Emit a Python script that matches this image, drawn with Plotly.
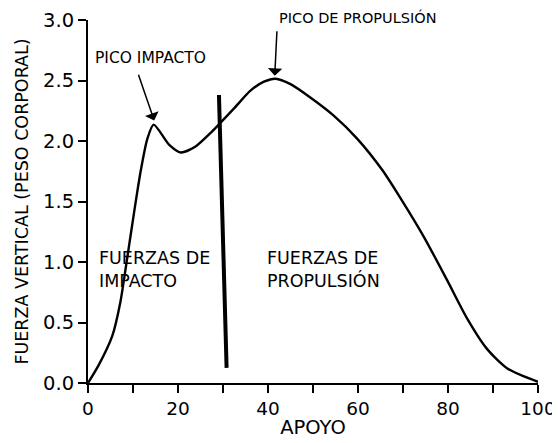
import plotly.graph_objects as go

# curva de fuerza vertical durante el apoyo
apoyo = [0, 2.4, 5.4, 7.2, 8.7, 10.2, 11.7, 13.2, 14.6, 18.0, 20.6, 23.9, 27.6,
         29.1, 32.4, 36.1, 39.1, 41.7, 45.0, 49.4, 54.6, 59.8, 65.4, 69.4, 74.6,
         79.8, 84.3, 88.7, 93.2, 100]
fuerza = [0, 0.15, 0.39, 0.67, 1.03, 1.40, 1.75, 2.02, 2.135, 1.97, 1.905, 1.955,
          2.08, 2.137, 2.267, 2.416, 2.49, 2.515, 2.47, 2.36, 2.21, 2.02, 1.76, 1.53,
          1.21, 0.85, 0.53, 0.28, 0.12, 0.01]

# linea que separa las fases
sep_x = [29.1, 30.8]
sep_y = [2.38, 0.125]

x_ticks = [0, 10, 20, 30, 40, 50, 60, 70, 80, 90, 100]
x_labels = ["0", "", "20", "", "40", "", "60", "", "80", "", "100"]
y_ticks = [0, 0.5, 1.0, 1.5, 2.0, 2.5, 3.0]

FONT = "DejaVu Sans"

fig = go.Figure()
fig.add_trace(go.Scatter(x=apoyo, y=fuerza, mode="lines",
                         line=dict(color="black", width=2.4, shape="spline", smoothing=0.7),
                         hoverinfo="skip"))
fig.add_trace(go.Scatter(x=sep_x, y=sep_y, mode="lines",
                         line=dict(color="black", width=4), hoverinfo="skip"))

# flechas
fig.add_annotation(x=14.7, y=2.17, ax=11.1, ay=2.56, xref="x", yref="y", axref="x", ayref="y",
                   text="", showarrow=True, arrowhead=1, arrowsize=1.6, arrowwidth=1.5,
                   arrowcolor="black")
fig.add_annotation(x=41.5, y=2.54, ax=42.0, ay=2.92, xref="x", yref="y", axref="x", ayref="y",
                   text="", showarrow=True, arrowhead=1, arrowsize=1.6, arrowwidth=1.5,
                   arrowcolor="black")

fig.add_annotation(x=1.2, y=2.69, text="PICO IMPACTO", showarrow=False, xanchor="left",
                   font=dict(size=15.5, color="black", family=FONT))
fig.add_annotation(x=42.1, y=1.036, yref="paper", text="PICO DE PROPULSIÓN", showarrow=False,
                   xanchor="left", yanchor="top", font=dict(size=14.5, color="black", family=FONT))
fig.add_annotation(x=1.9, y=0.935, text="FUERZAS DE<br>IMPACTO", showarrow=False,
                   xanchor="left", align="left", font=dict(size=17.5, color="black", family=FONT))
fig.add_annotation(x=39.4, y=0.935, text="FUERZAS DE<br>PROPULSIÓN", showarrow=False,
                   xanchor="left", align="left", font=dict(size=17.5, color="black", family=FONT))

# la pagina tiene 8px de margen, por eso la figura es algo mas pequena
fig.update_layout(
    width=552, height=435,
    margin=dict(l=80, r=22, t=12, b=60),
    paper_bgcolor="white", plot_bgcolor="white",
    showlegend=False,
    font=dict(family=FONT, color="black"),
)
fig.update_xaxes(range=[0, 100], tickvals=x_ticks, ticktext=x_labels, automargin=False,
                 showline=True, linecolor="black", linewidth=2,
                 ticks="outside", ticklen=8, tickwidth=2, tickcolor="black",
                 showgrid=False, zeroline=False, tickfont=dict(size=18.5),
                 ticklabeloverflow="allow",
                 title=dict(text="APOYO", font=dict(size=19.5), standoff=2))
fig.update_yaxes(range=[0, 3], tickvals=y_ticks, tickformat=".1f", automargin=False,
                 showline=True, linecolor="black", linewidth=2,
                 ticks="outside", ticklen=8, tickwidth=2, tickcolor="black",
                 showgrid=False, zeroline=False, tickfont=dict(size=19.5),
                 ticklabeloverflow="allow",
                 title=dict(text="FUERZA VERTICAL (PESO CORPORAL)", font=dict(size=17.5), standoff=10))

fig.write_html("out.html")
